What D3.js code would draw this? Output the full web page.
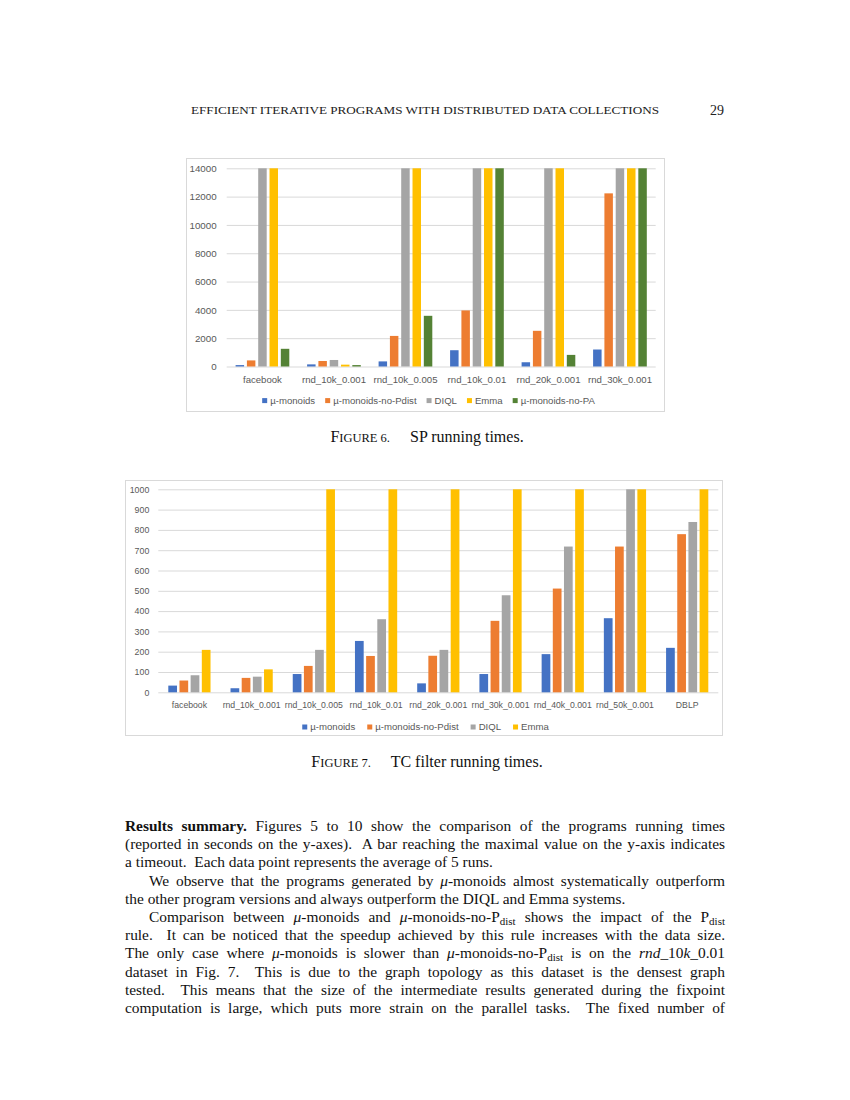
<!DOCTYPE html>
<html>
<head>
<meta charset="utf-8">
<script src="https://cdn.jsdelivr.net/npm/d3@7"></script>
<style>
  html, body { margin: 0; padding: 0; background: #fff; }
  svg { display: block; }
</style>
</head>
<body>
<svg id="page" width="850" height="1100"></svg>
<script>
// ---------- DATA ----------
const spCategories = ["facebook", "rnd_10k_0.001", "rnd_10k_0.005", "rnd_10k_0.01", "rnd_20k_0.001", "rnd_30k_0.001"];
const spSeriesNames = ["µ-monoids", "µ-monoids-no-Pdist", "DIQL", "Emma", "µ-monoids-no-PA"];
const spMu       = [100, 150, 360, 1150, 300, 1200];
const spNoPdist  = [430, 390, 2160, 3960, 2520, 12230];
const spDiql     = [14000, 460, 14000, 14000, 14000, 14000];
const spEmma     = [14000, 130, 14000, 14000, 14000, 14000];
const spNoPA     = [1250, 100, 3580, 14000, 820, 14000];
const spTicks    = [0, 2000, 4000, 6000, 8000, 10000, 12000, 14000];

const tcCategories = ["facebook", "rnd_10k_0.001", "rnd_10k_0.005", "rnd_10k_0.01", "rnd_20k_0.001", "rnd_30k_0.001", "rnd_40k_0.001", "rnd_50k_0.001", "DBLP"];
const tcSeriesNames = ["µ-monoids", "µ-monoids-no-Pdist", "DIQL", "Emma"];
const tcMu      = [33, 20, 90, 253, 44, 90, 188, 365, 219];
const tcNoPdist = [58, 71, 130, 179, 180, 352, 511, 718, 779];
const tcDiql    = [84, 77, 209, 360, 209, 478, 718, 1000, 839];
const tcEmma    = [209, 113, 1000, 1000, 1000, 1000, 1000, 1000, 1000];
const tcTicks   = [0, 100, 200, 300, 400, 500, 600, 700, 800, 900, 1000];

const seriesColors = ["#4472C4", "#ED7D31", "#A5A5A5", "#FFC000", "#548235"];

// ---------- PAGE ----------
const svg = d3.select("#page");
const serif = "'Liberation Serif', 'Times New Roman', serif";
const sans = "'Liberation Sans', Arial, sans-serif";

// Header
svg.append("text").attr("x", 425).attr("y", 114).attr("text-anchor", "middle")
  .attr("font-family", serif).attr("font-size", 10.8).attr("fill", "#222")
  .attr("textLength", 468).attr("lengthAdjust", "spacingAndGlyphs")
  .text("EFFICIENT ITERATIVE PROGRAMS WITH DISTRIBUTED DATA COLLECTIONS");
svg.append("text").attr("x", 724).attr("y", 115).attr("text-anchor", "end")
  .attr("font-family", serif).attr("font-size", 14).attr("fill", "#222").text("29");

function drawChart(cfg) {
  const g = svg.append("g");
  g.append("rect").attr("x", cfg.box[0]).attr("y", cfg.box[1]).attr("width", cfg.box[2]).attr("height", cfg.box[3])
    .attr("fill", "#fff").attr("stroke", "#d9d9d9").attr("stroke-width", 1);

  const x = d3.scaleBand().domain(cfg.categories).range([cfg.left, cfg.right]).paddingInner(0).paddingOuter(0);
  const y = d3.scaleLinear().domain([0, cfg.max]).range([cfg.bottom, cfg.top]);
  const bw = x.bandwidth();
  const xs = d3.scaleBand().domain(d3.range(cfg.series.length)).range([cfg.groupPad, bw - cfg.groupPad]).paddingInner(cfg.innerPad).paddingOuter(0);

  const yAxis = d3.axisLeft(y).tickValues(cfg.ticks).tickSize(-(cfg.right - cfg.left)).tickPadding(cfg.tickPad).tickFormat(d3.format("d"));
  const ya = g.append("g").attr("transform", `translate(${cfg.left},0)`).call(yAxis);
  ya.select(".domain").remove();
  ya.selectAll(".tick line").attr("stroke", "#d9d9d9").attr("stroke-width", 1);
  ya.selectAll(".tick text").attr("fill", "#595959").attr("font-family", sans).attr("font-size", cfg.tickFont);

  cfg.series.forEach((vals, si) => {
    g.append("g").selectAll("rect").data(vals).join("rect")
      .attr("x", (d, i) => x(cfg.categories[i]) + xs(si))
      .attr("width", xs.bandwidth())
      .attr("y", d => y(d))
      .attr("height", d => cfg.bottom - y(d))
      .attr("fill", seriesColors[si]);
  });

  const xAxis = d3.axisBottom(x).tickSize(0).tickPadding(cfg.xPad);
  const xa = g.append("g").attr("transform", `translate(0,${cfg.bottom})`).call(xAxis);
  xa.select(".domain").remove();
  xa.selectAll(".tick text").attr("fill", "#595959").attr("font-family", sans).attr("font-size", cfg.xFont);

  const lg = g.append("g");
  let cx = 0;
  cfg.names.forEach((n, i) => {
    const it = lg.append("g");
    it.append("rect").attr("x", 0).attr("y", -2.5).attr("width", 5).attr("height", 5).attr("fill", seriesColors[i]);
    const t = it.append("text").attr("x", 8).attr("y", 0).attr("dy", "0.35em")
      .attr("font-family", sans).attr("font-size", cfg.legFont).attr("fill", "#595959").text(n);
    const w = 8 + t.node().getComputedTextLength();
    it.attr("transform", `translate(${cx},0)`);
    cx += w + cfg.legGap;
  });
  const total = cx - cfg.legGap;
  lg.attr("transform", `translate(${cfg.legCenter - total / 2},${cfg.legY})`);
}

drawChart({
  box: [186.5, 158.5, 478, 253],
  categories: spCategories,
  series: [spMu, spNoPdist, spDiql, spEmma, spNoPA],
  names: spSeriesNames,
  max: 14000, ticks: spTicks,
  left: 226.7, right: 655.7, top: 168.3, bottom: 366.5,
  groupPad: 8.9, innerPad: 0.25,
  tickPad: 10, tickFont: 9.8,
  xPad: 10, xFont: 9.6,
  legFont: 9.6, legGap: 10, legCenter: 428.5, legY: 400.6
});

drawChart({
  box: [125.5, 480.5, 597, 255],
  categories: tcCategories,
  series: [tcMu, tcNoPdist, tcDiql, tcEmma],
  names: tcSeriesNames,
  max: 1000, ticks: tcTicks,
  left: 158.3, right: 718.3, top: 489.3, bottom: 692.3,
  groupPad: 10, innerPad: 0.22,
  tickPad: 9, tickFont: 8.8,
  xPad: 10, xFont: 8.7,
  legFont: 9.6, legGap: 12, legCenter: 425.5, legY: 727
});

// Captions
function caption(num, rest, yy) {
  const t = svg.append("text").attr("x", 427).attr("y", yy).attr("text-anchor", "middle")
    .attr("font-family", serif).attr("font-size", 16).attr("fill", "#111")
    .style("white-space", "pre");
  t.append("tspan").text("F");
  t.append("tspan").attr("font-size", 12.5).text("IGURE " + num + ".");
  t.append("tspan").text("\u2003 " + rest);
}
caption(6, "SP running times.", 442);
caption(7, "TC filter running times.", 767);

// Body text
const lines = [
  {j: true, ind: 0, segs: [{t: "Results summary.", b: true}, {t: " Figures 5 to 10 show the comparison of the programs running times"}]},
  {j: true, ind: 0, segs: [{t: "(reported in seconds on the y-axes).  A bar reaching the maximal value on the y-axis indicates"}]},
  {j: false, ind: 0, segs: [{t: "a timeout.  Each data point represents the average of 5 runs."}]},
  {j: true, ind: 24, segs: [{t: "We observe that the programs generated by "}, {t: "μ", i: true}, {t: "-monoids almost systematically outperform"}]},
  {j: false, ind: 0, segs: [{t: "the other program versions and always outperform the DIQL and Emma systems."}]},
  {j: true, ind: 24, segs: [{t: "Comparison between "}, {t: "μ", i: true}, {t: "-monoids and "}, {t: "μ", i: true}, {t: "-monoids-no-P"}, {t: "dist", sub: true}, {t: " shows the impact of the P"}, {t: "dist", sub: true}]},
  {j: true, ind: 0, segs: [{t: "rule.  It can be noticed that the speedup achieved by this rule increases with the data size."}]},
  {j: true, ind: 0, segs: [{t: "The only case where "}, {t: "μ", i: true}, {t: "-monoids is slower than "}, {t: "μ", i: true}, {t: "-monoids-no-P"}, {t: "dist", sub: true}, {t: " is on the "}, {t: "rnd", i: true}, {t: "_10"}, {t: "k", i: true}, {t: "_0.01"}]},
  {j: true, ind: 0, segs: [{t: "dataset in Fig. 7.  This is due to the graph topology as this dataset is the densest graph"}]},
  {j: true, ind: 0, segs: [{t: "tested.  This means that the size of the intermediate results generated during the fixpoint"}]},
  {j: true, ind: 0, segs: [{t: "computation is large, which puts more strain on the parallel tasks.  The fixed number of"}]}
];
const textLeft = 125, textRight = 725, firstBase = 831, lineStep = 18.2;
lines.forEach((ln, k) => {
  const t = svg.append("text").attr("x", textLeft + ln.ind).attr("y", firstBase + k * lineStep)
    .attr("font-family", serif).attr("font-size", 15.4).attr("fill", "#111")
    .style("white-space", "pre");
  let shifted = false;
  ln.segs.forEach(s => {
    const ts = t.append("tspan").text(s.t);
    if (s.b) ts.attr("font-weight", "bold");
    if (s.i) ts.attr("font-style", "italic");
    if (s.sub) { ts.attr("font-size", 11).attr("dy", 3); shifted = true; }
    else if (shifted) { ts.attr("dy", -3); shifted = false; }
  });
  if (ln.j) {
    const full = ln.segs.map(s => s.t).join("");
    const nSpaces = (full.match(/ /g) || []).length;
    const natural = t.node().getComputedTextLength();
    const target = textRight - textLeft - ln.ind;
    if (nSpaces > 0) t.attr("word-spacing", (target - natural) / nSpaces);
  }
});
</script>
</body>
</html>
